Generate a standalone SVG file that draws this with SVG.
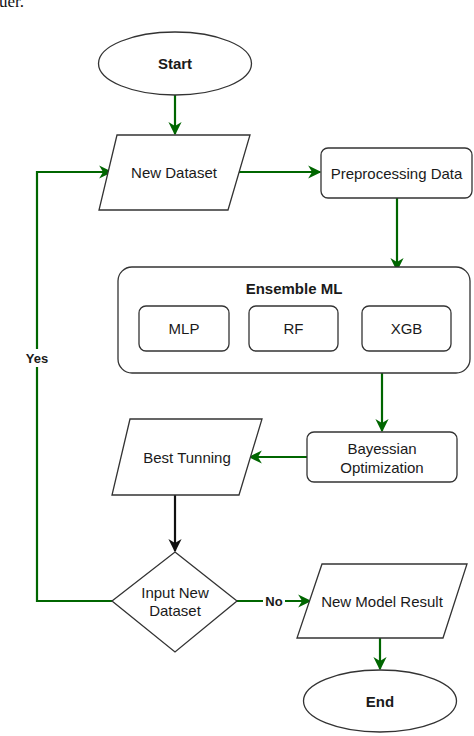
<svg xmlns="http://www.w3.org/2000/svg" width="474" height="736" viewBox="0 0 474 736">
<style>
  .node { fill: #ffffff; stroke: #333333; stroke-width: 1.3; }
  .t { font-family: "Liberation Sans", Arial, sans-serif; font-size: 15px; fill: #1a1a1a; text-anchor: middle; dominant-baseline: central; }
  .b { font-weight: bold; }
  .lbl { font-family: "Liberation Sans", Arial, sans-serif; font-size: 13px; font-weight: bold; fill: #1a1a1a; text-anchor: middle; dominant-baseline: central; }
  .g { fill: none; stroke: #006600; stroke-width: 2.2; }
  .k { fill: none; stroke: #111111; stroke-width: 2.2; }
</style>
<defs>
  <marker id="ag" viewBox="0 0 10 10" refX="9" refY="5" markerWidth="6" markerHeight="6" orient="auto" markerUnits="strokeWidth">
    <path d="M0,0 L10,5 L0,10 L3,5 Z" fill="#006600"/>
  </marker>
  <marker id="ak" viewBox="0 0 10 10" refX="9" refY="5" markerWidth="6" markerHeight="6" orient="auto" markerUnits="strokeWidth">
    <path d="M0,0 L10,5 L0,10 L3,5 Z" fill="#111111"/>
  </marker>
</defs>
<rect x="0" y="0" width="474" height="736" fill="#ffffff"/>
<text x="-1" y="7" font-family="Liberation Serif, 'Times New Roman', serif" font-size="17" fill="#111">uer.</text>

<g id="connectors">
  <path class="g" d="M175,95 L175,134" marker-end="url(#ag)"/>
  <path class="g" d="M238,172 L320,172" marker-end="url(#ag)"/>
  <path class="g" d="M397,198 L397,270" marker-end="url(#ag)"/>
  <path class="g" d="M382,373 L382,431" marker-end="url(#ag)"/>
  <path class="g" d="M307,457 L250,457" marker-end="url(#ag)"/>
  <path class="k" d="M175,495 L175,551" marker-end="url(#ak)"/>
  <path class="g" d="M112,601 L37,601 L37,172 L111,172" marker-end="url(#ag)"/>
  <path class="g" d="M237,601 L310,601" marker-end="url(#ag)"/>
  <path class="g" d="M380,638 L380,669" marker-end="url(#ag)"/>
  <rect x="24" y="349" width="26" height="18" fill="#ffffff"/>
  <text class="lbl" x="37" y="358">Yes</text>
  <rect x="263" y="592" width="22" height="18" fill="#ffffff"/>
  <text class="lbl" x="274" y="601">No</text>
</g>

<g id="start">
  <ellipse class="node" cx="175" cy="63.5" rx="76.5" ry="31.5"/>
  <text class="t b" x="175" y="63.5">Start</text>
</g>
<g id="new-dataset">
  <polygon class="node" points="117,135 250,135 228,210 99,210"/>
  <text class="t" x="174" y="172">New Dataset</text>
</g>
<g id="preprocessing">
  <rect class="node" x="321" y="148" width="151" height="50" rx="7"/>
  <text class="t" x="396.5" y="173">Preprocessing Data</text>
</g>
<g id="ensemble">
  <rect class="node" x="118" y="267" width="352" height="106" rx="14"/>
  <text class="t b" x="294" y="288">Ensemble ML</text>
</g>
<g id="mlp">
  <rect class="node" x="139" y="306" width="90" height="45" rx="7"/>
  <text class="t" x="184" y="328.5">MLP</text>
</g>
<g id="rf">
  <rect class="node" x="249" y="306" width="89" height="45" rx="7"/>
  <text class="t" x="293.5" y="328.5">RF</text>
</g>
<g id="xgb">
  <rect class="node" x="362" y="306" width="89" height="45" rx="7"/>
  <text class="t" x="406.5" y="328.5">XGB</text>
</g>
<g id="bayessian">
  <rect class="node" x="307" y="432" width="150" height="50" rx="7"/>
  <text class="t" x="382" y="448">Bayessian</text>
  <text class="t" x="382" y="467">Optimization</text>
</g>
<g id="best-tunning">
  <polygon class="node" points="130,419 262,419 239,495 112,495"/>
  <text class="t" x="187" y="457">Best Tunning</text>
</g>
<g id="input-new-dataset">
  <polygon class="node" points="175,552 237,601 175,652 112,601"/>
  <text class="t" x="175" y="592">Input New</text>
  <text class="t" x="175" y="610">Dataset</text>
</g>
<g id="new-model-result">
  <polygon class="node" points="322,564 467,564 443,638 297,638"/>
  <text class="t" x="382" y="601">New Model Result</text>
</g>
<g id="end">
  <ellipse class="node" cx="380" cy="701" rx="76.5" ry="31"/>
  <text class="t b" x="380" y="701">End</text>
</g>
</svg>
